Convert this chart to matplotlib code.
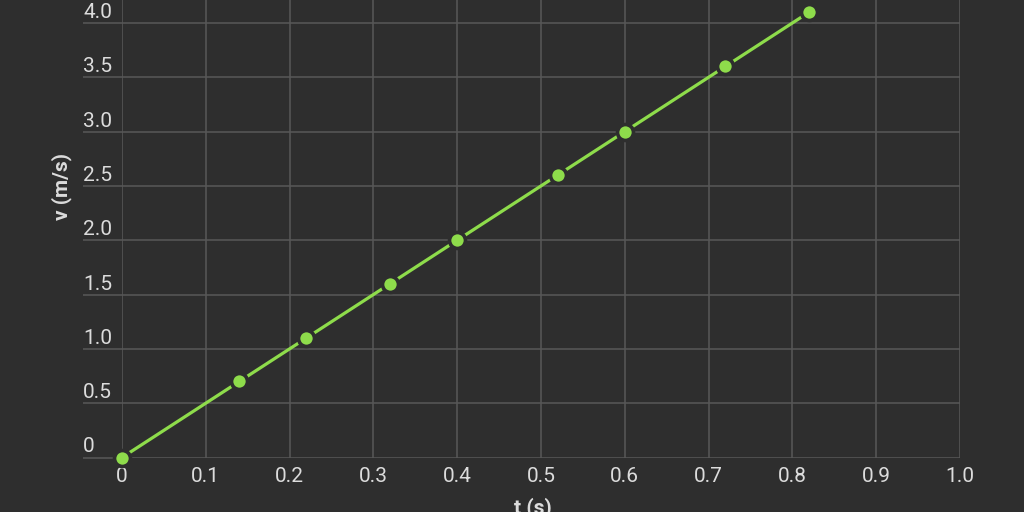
import matplotlib
matplotlib.use("Agg")
import matplotlib.pyplot as plt

# Data
t_values = [0.0, 0.14, 0.22, 0.32, 0.40, 0.52, 0.60, 0.72, 0.82]
v_values = [0.0, 0.7, 1.1, 1.6, 2.0, 2.6, 3.0, 3.6, 4.1]
x_ticks = [0.0, 0.1, 0.2, 0.3, 0.4, 0.5, 0.6, 0.7, 0.8, 0.9, 1.0]
x_tick_labels = ["0", "0.1", "0.2", "0.3", "0.4", "0.5", "0.6", "0.7", "0.8", "0.9", "1.0"]
y_ticks = [0.0, 0.5, 1.0, 1.5, 2.0, 2.5, 3.0, 3.5, 4.0]
y_tick_labels = ["0", "0.5", "1.0", "1.5", "2.0", "2.5", "3.0", "3.5", "4.0"]
x_label = "t (s)"
y_label = "v (m/s)"

BG = "#2e2e2e"
GRID = "#585858"
TEXT = "#dcdcdc"
GREEN = "#8edc4b"
FS = 15

plt.rcParams['font.family'] = ['Roboto', 'DejaVu Sans']

W, H = 1024, 512
fig = plt.figure(figsize=(W / 100, H / 100), dpi=100, facecolor=BG)
x0, x1 = 122, 960
y0 = 457.5
ax = fig.add_axes([x0 / W, (H - y0) / H, (x1 - x0) / W, y0 / H], facecolor=BG)

ax.plot(t_values, v_values, color=GREEN, lw=2.3, marker='o', ms=11.5,
        mfc=GREEN, mec=BG, mew=2.6, clip_on=False, zorder=3)

ax.set_xlim(0, 1.0)
ax.set_ylim(0, 4.0 + 23 / 108.75)

for s in ax.spines.values():
    s.set_visible(False)

ax.set_xticks(x_ticks, x_tick_labels)
ax.set_yticks(y_ticks, [""] * len(y_ticks))
ax.grid(True, color=GRID, lw=1.1)
ax.set_axisbelow(True)
ax.tick_params(axis='x', length=0, pad=7, labelsize=FS, labelcolor=TEXT)
ax.tick_params(axis='y', length=28, width=1.1, color=GRID, pad=0)

ylab_x = (83 - x0) / (x1 - x0)
for yv, lab in zip(y_ticks, y_tick_labels):
    ax.annotate(lab, xy=(ylab_x, yv), xycoords=('axes fraction', 'data'),
                xytext=(0, 3.6), textcoords='offset points',
                ha='left', va='baseline', fontsize=FS, color=TEXT,
                annotation_clip=False)

ax.set_ylabel(y_label, fontsize=FS, fontweight='bold', color=TEXT, va='center')
ax.yaxis.set_label_coords((62 - x0) / (x1 - x0), (y0 - 187) / y0)
ax.set_xlabel(x_label, fontsize=FS, fontweight='bold', color=TEXT, va='top')
ax.xaxis.set_label_coords((533 - x0) / (x1 - x0), (y0 - 497) / y0)

fig.savefig("out.png", dpi=100, facecolor=BG)
